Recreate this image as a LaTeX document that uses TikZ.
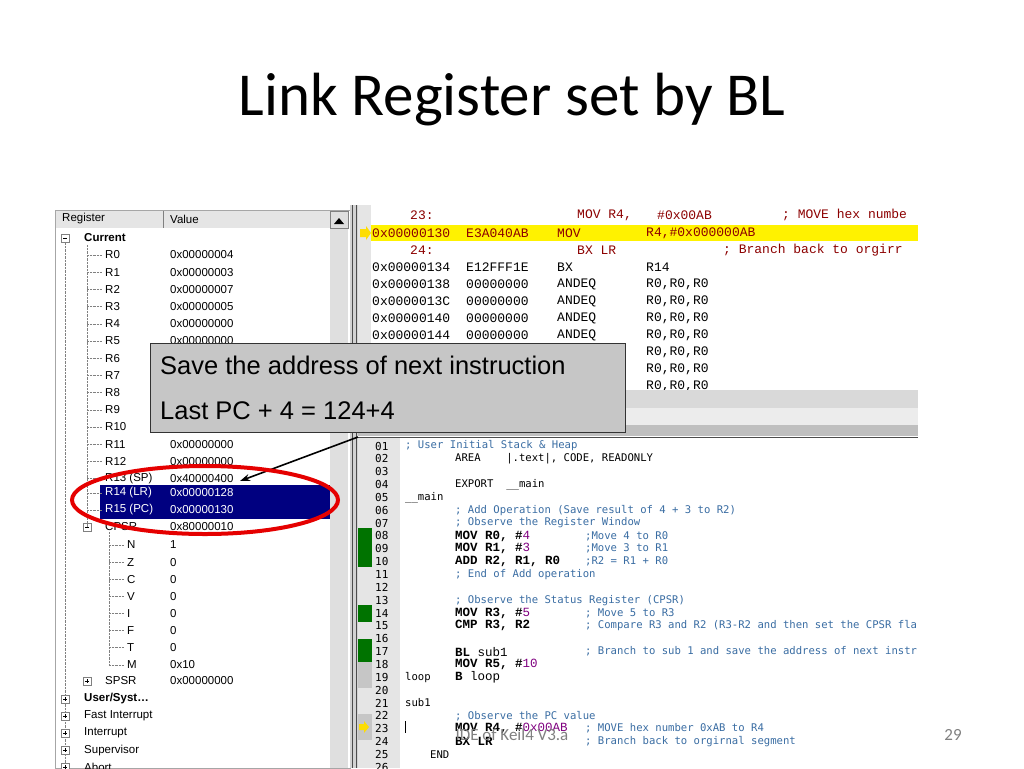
\documentclass[tikz,border=0pt]{standalone}
\usepackage{fontspec}
\usetikzlibrary{arrows.meta}
\setmainfont{Carlito}
\newfontfamily\arial{Liberation Sans}
\newfontfamily\cour{Liberation Mono}
\newfontfamily\dmono{DejaVu Sans Mono}
\begin{document}
\begin{tikzpicture}[x=1pt,y=-1pt,
  reg/.style={anchor=west,inner sep=0,font=\arial\fontsize{11.5}{12}\selectfont},
  dis/.style={anchor=west,inner sep=0,text=red!55!black,font=\cour\fontsize{13}{14}\selectfont},
  cd/.style={anchor=west,inner sep=0,font=\dmono\fontsize{10.6}{12}\selectfont},
  cmt/.style={cd,text=cyan!55!blue!75!black},
  kw/.style={cd,font=\cour\bfseries\fontsize{12.5}{12}\selectfont}]
\useasboundingbox (0,0) rectangle (1024,768);
\fill[white] (0,0) rectangle (1024,768);
\node[font=\fontsize{61}{66}\selectfont] (title) at (512,100) {Link Register set by BL};
% register panel
\draw[gray!70] (55,210) rectangle (350,768);
\fill[gray!20] (56,211) rectangle (330,228);
\draw[gray] (163,211) -- (163,228);
\fill[gray!25] (330,211) rectangle (348,768);
\draw[gray] (330,211) rectangle (348,228);
\fill (334,224) -- (344,224) -- (339,218) -- cycle;
\node[reg] at (62,219) {Register};
\node[reg] at (170,219) {Value};
\fill[blue!50!black] (100,485) rectangle (330,519);
\node[reg,font=\arial\bfseries\fontsize{11.5}{12}\selectfont] at (84,238) {Current};
\draw[gray] (61,234) rectangle (69,242); \draw (63,238) -- (67,238);
\draw[densely dotted,gray] (65,243) -- (65,768);
\draw[densely dotted,gray] (87,245) -- (87,527);
\foreach \n/\v [count=\i from 0] in {R0/0x00000004,R1/0x00000003,R2/0x00000007,R3/0x00000005,R4/0x00000000,R5/0x00000000,R6/,R7/,R8/,R9/,R10/,R11/0x00000000,R12/0x00000000,R13 (SP)/0x40000400}{
  \pgfmathsetmacro\yy{255+17.2*\i}
  \draw[densely dotted,gray] (87,\yy) -- (102,\yy);
  \node[reg] at (105,\yy) {\n};
  \node[reg] at (170,\yy) {\v};}
\draw[densely dotted,gray] (87,493) -- (102,493);
\draw[densely dotted,gray] (87,510) -- (102,510);
\node[reg,text=white] at (105,493) {R14 (LR)};
\node[reg,text=white] at (170,493) {0x00000128};
\node[reg,text=white] at (105,510) {R15 (PC)};
\node[reg,text=white] at (170,510) {0x00000130};
\draw[gray] (83,523) rectangle (91,531); \draw (85,527) -- (89,527);
\node[reg] at (105,527) {CPSR}; \node[reg] at (170,527) {0x80000010};
\draw[densely dotted,gray] (109,532) -- (109,664);
\foreach \n/\v [count=\i from 0] in {N/1,Z/0,C/0,V/0,I/0,F/0,T/0,M/0x10}{
  \pgfmathsetmacro\yy{545+17.1*\i}
  \draw[densely dotted,gray] (109,\yy) -- (124,\yy);
  \node[reg] at (127,\yy) {\n};
  \node[reg] at (170,\yy) {\v};}
\draw[gray] (83,677) rectangle (91,685); \draw (85,681) -- (89,681); \draw (87,679) -- (87,683);
\node[reg] at (105,681) {SPSR}; \node[reg] at (170,681) {0x00000000};
\foreach \n [count=\i from 0] in {\textbf{User/Syst\dots},Fast Interrupt,Interrupt,Supervisor,Abort}{
  \pgfmathsetmacro\yy{699+17.1*\i}
  \draw[gray,fill=white] (61,\yy-4) rectangle (69,\yy+4); \draw (63,\yy) -- (67,\yy); \draw (65,\yy-2) -- (65,\yy+2);
  \node[reg] at (84,\yy) {\n};}
% middle bar
\fill[gray!35] (350,205) rectangle (358,768);
\draw[gray!60!black] (352,205) -- (352,768) (356,205) -- (356,768);
% disassembly
\fill[gray!20] (358,205) rectangle (371,395);
\fill[yellow] (371,225) rectangle (918,241);
\fill[yellow!80!orange] (360,229) -- (366,229) -- (366,226) -- (371,233) -- (366,240) -- (366,237) -- (360,237) -- cycle;
\begin{scope}
\clip (358,205) rectangle (918,390);
\node[dis] at (410,215) {23:}; \node[dis] at (577,215) {MOV R4,}; \node[dis] at (657,215) {\#0x00AB}; \node[dis] at (719,215) {};
\node[dis] at (782,215) {; MOVE hex numbe};
\node[dis] at (372,233) {0x00000130}; \node[dis] at (466,233) {E3A040AB}; \node[dis] at (557,233) {MOV}; \node[dis] at (646,233) {R4,\#0x000000AB};
\node[dis] at (410,250) {24:}; \node[dis] at (577,250) {BX LR}; \node[dis] at (723,250) {; Branch back to orgirr};
\foreach \a/\h/\m/\o [count=\i from 0] in {0x00000134/E12FFF1E/BX/R14,0x00000138/00000000/ANDEQ/{R0,R0,R0},0x0000013C/00000000/ANDEQ/{R0,R0,R0},0x00000140/00000000/ANDEQ/{R0,R0,R0},0x00000144/00000000/ANDEQ/{R0,R0,R0},//{}/{R0,R0,R0},//{}/{R0,R0,R0},//{}/{R0,R0,R0}}{
  \pgfmathsetmacro\yy{267+17*\i}
  \node[dis,text=black] at (372,\yy) {\a}; \node[dis,text=black] at (466,\yy) {\h};
  \node[dis,text=black] at (557,\yy) {\m}; \node[dis,text=black] at (646,\yy) {\o};}
\end{scope}
\fill[gray!30] (371,390) rectangle (918,408);
\fill[gray!15] (371,408) rectangle (918,425);
\fill[gray!50] (358,425) rectangle (918,436);
% editor
\fill[white] (358,437) rectangle (918,768);
\draw[gray!60!black,thick] (358,437) -- (918,437);
\fill[gray!20] (358,438) rectangle (400,768);
\foreach \a/\b in {528/567,605/622,639/662}{\fill[green!45!black] (358,\a) rectangle (372,\b);}
\fill[gray!45] (358,662) rectangle (372,688);
\fill[gray!45] (358,714) rectangle (372,740);
\foreach \i in {1,...,26}{
  \pgfmathsetmacro\yy{446+12.85*(\i-1)}
  \node[cd,font=\dmono\fontsize{11}{12}\selectfont] at (375,\yy) {\ifnum\i<10 0\fi\i};}
\def\Ln#1{446+12.85*(#1-1)}
\begin{scope}
\clip (400,437) rectangle (918,768);
\node[cmt] at (405,{\Ln{1}}) {; User Initial Stack \& Heap};
\node[cd] at (455,{\Ln{2}}) {AREA\ \ \ \ |.text|, CODE, READONLY};
\node[cd] at (455,{\Ln{4}}) {EXPORT\ \ \_\_main};
\node[cd] at (405,{\Ln{5}}) {\_\_main};
\node[cmt] at (455,{\Ln{6}}) {; Add Operation (Save result of 4 + 3 to R2)};
\node[cmt] at (455,{\Ln{7}}) {; Observe the Register Window};
\node[kw] at (455,{\Ln{8}}) {MOV R0, \#\textcolor{violet}{\mdseries 4}}; \node[cmt] at (585,{\Ln{8}}) {;Move 4 to R0};
\node[kw] at (455,{\Ln{9}}) {MOV R1, \#\textcolor{violet}{\mdseries 3}}; \node[cmt] at (585,{\Ln{9}}) {;Move 3 to R1};
\node[kw] at (455,{\Ln{10}}) {ADD R2, R1, R0}; \node[cmt] at (585,{\Ln{10}}) {;R2 = R1 + R0};
\node[cmt] at (455,{\Ln{11}}) {; End of Add operation};
\node[cmt] at (455,{\Ln{13}}) {; Observe the Status Register (CPSR)};
\node[kw] at (455,{\Ln{14}}) {MOV R3, \#\textcolor{violet}{\mdseries 5}}; \node[cmt] at (585,{\Ln{14}}) {; Move 5 to R3};
\node[kw] at (455,{\Ln{15}}) {CMP R3, R2}; \node[cmt] at (585,{\Ln{15}}) {; Compare R3 and R2 (R3-R2 and then set the CPSR fla};
\node[kw] at (455,{\Ln{17}}) {BL \mdseries sub1}; \node[cmt] at (585,{\Ln{17}}) {; Branch to sub 1 and save the address of next instr};
\node[kw] at (455,{\Ln{18}}) {MOV R5, \#\textcolor{violet}{\mdseries 10}};
\node[cd] at (405,{\Ln{19}}) {loop}; \node[kw] at (455,{\Ln{19}}) {B \mdseries loop};
\node[cd] at (405,{\Ln{21}}) {sub1};
\node[cmt] at (455,{\Ln{22}}) {; Observe the PC value};
\draw[thick] (405,721) -- (405,733);
\node[kw] at (455,{\Ln{23}}) {MOV R4, \#\textcolor{violet}{\mdseries 0x00AB}}; \node[cmt] at (585,{\Ln{23}}) {; MOVE hex number 0xAB to R4};
\node[kw] at (455,{\Ln{24}}) {BX LR}; \node[cmt] at (585,{\Ln{24}}) {; Branch back to orgirnal segment};
\node[cd] at (430,{\Ln{25}}) {END};
\end{scope}
\fill[yellow!80!orange] (359,724) -- (364,724) -- (364,721) -- (369,727) -- (364,733) -- (364,730) -- (359,730) -- cycle;
% callout
\node[draw=black!80,fill=gray!45,minimum width=475,minimum height=89,anchor=north west,inner sep=0] (call) at (150,343) {};
\node[anchor=west,inner sep=0,font=\arial\fontsize{25.5}{27}\selectfont] (t1) at (160,365) {Save the address of next instruction};
\node[anchor=west,inner sep=0,font=\arial\fontsize{25.5}{27}\selectfont] (t2) at (160,411) {Last PC + 4 = 124+4};
\coordinate (as) at (358,437);
\coordinate (ae) at (240,481);
\draw[-{Stealth[length=10pt,width=7pt]},line width=1.6pt] (as) -- (ae);
\draw[red!90!black,line width=4pt] (205,500) ellipse (133 and 34);
% footer
\node[text=gray,font=\fontsize{17}{18}\selectfont] (ft) at (512,735) {IDE of Keil4 V3.a};
\node[text=gray,font=\fontsize{17}{18}\selectfont] (pg) at (953,735) {29};
\end{tikzpicture}
\end{document}
